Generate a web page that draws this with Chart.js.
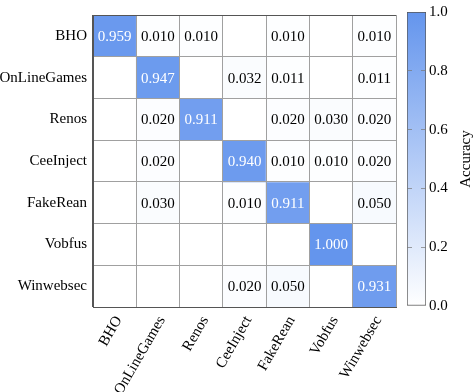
<!DOCTYPE html>
<html>
<head>
<meta charset="utf-8">
<script src="https://cdn.jsdelivr.net/npm/chart.js@4.4.1/dist/chart.umd.min.js"></script>
<style>
    html, body { margin: 0; padding: 0; background: #fff; }
    #wrap { position: relative; width: 474px; height: 392px; }
    #heat { position: absolute; left: 0; top: 0; }
    #bar { position: absolute; left: 400px; top: 0; }
</style>
</head>
<body>
<div id="wrap">
    <canvas id="heat" width="474" height="392"></canvas>
    <canvas id="bar" width="74" height="392"></canvas>
</div>
<script>
// Clases (filas = real, columnas = predicha)
const classes = ['BHO', 'OnLineGames', 'Renos', 'CeeInject', 'FakeRean', 'Vobfus', 'Winwebsec'];

// Una fila por clase real; null = celda vacía
const accBHO       = [0.959, 0.010, 0.010, null,  0.010, null,  0.010];
const accOnLine    = [null,  0.947, null,  0.032, 0.011, null,  0.011];
const accRenos     = [null,  0.020, 0.911, null,  0.020, 0.030, 0.020];
const accCeeInject = [null,  0.020, null,  0.940, 0.010, 0.010, 0.020];
const accFakeRean  = [null,  0.030, null,  0.010, 0.911, null,  0.050];
const accVobfus    = [null,  null,  null,  null,  null,  1.000, null];
const accWinwebsec = [null,  null,  null,  0.020, 0.050, null,  0.931];

const matrix = [accBHO, accOnLine, accRenos, accCeeInject, accFakeRean, accVobfus, accWinwebsec];

// Ticks de la barra de color
const barTicks = [0, 0.2, 0.4, 0.6, 0.8, 1.0];

const BLUE = [100, 149, 237];
const FONT = "Liberation Serif, Times New Roman, serif";

Chart.defaults.font.family = FONT;
Chart.defaults.font.size = 15;
Chart.defaults.color = '#000';

function colorFor(v) {
    const t = v || 0;
    const r = Math.round(255 + (BLUE[0] - 255) * t);
    const g = Math.round(255 + (BLUE[1] - 255) * t);
    const b = Math.round(255 + (BLUE[2] - 255) * t);
    return `rgb(${r}, ${g}, ${b})`;
}

// Texto de cada celda
const cellLabels = {
    id: 'cellLabels',
    afterDatasetsDraw(chart) {
        const ctx = chart.ctx;
        ctx.save();
        ctx.font = '15px ' + FONT;
        ctx.textAlign = 'center';
        ctx.textBaseline = 'middle';
        chart.data.datasets.forEach((ds, i) => {
            const meta = chart.getDatasetMeta(i);
            meta.data.forEach((el, j) => {
                const v = matrix[i][j];
                if (v === null) return;
                ctx.fillStyle = v > 0.5 ? '#fff' : '#000';
                ctx.fillText(v.toFixed(3), el.x, (el.y + el.base) / 2 + 1);
            });
        });
        ctx.restore();
    }
};

const edgeColor = (n) => (ctx) => (ctx.index === 0 || ctx.index === n) ? '#555' : '#a0a0a0';

new Chart(document.getElementById('heat'), {
    type: 'bar',
    data: {
        labels: classes,
        datasets: matrix.map((row, i) => ({
            label: classes[i],
            data: row.map(() => [i, i + 1]),
            backgroundColor: row.map(v => colorFor(v)),
            borderWidth: 0,
            barPercentage: 1,
            categoryPercentage: 1,
            grouped: false
        }))
    },
    options: {
        responsive: false,
        animation: false,
        layout: { padding: { top: 5, right: 78, left: 0, bottom: 0 } },
        plugins: { legend: { display: false }, tooltip: { enabled: false } },
        scales: {
            x: {
                grid: { z: 1, offset: true, drawTicks: false, color: edgeColor(7) },
                border: { z: 2, color: '#555' },
                ticks: { minRotation: 60, maxRotation: 60, padding: 6, labelOffset: 4 },
                afterFit: (s) => { s.height = 85; }
            },
            y: {
                min: 0,
                max: 7,
                reverse: true,
                grid: { z: 1, offset: true, drawTicks: false, color: edgeColor(7) },
                border: { z: 2, color: '#555' },
                afterBuildTicks: (s) => { s.ticks = classes.map((c, i) => ({ value: i + 0.5 })); },
                ticks: { padding: 6, callback: (v, idx) => classes[idx] },
                afterFit: (s) => { s.width = 93; }
            }
        }
    },
    plugins: [cellLabels]
});

// Título vertical de la barra de color
const barTitle = {
    id: 'barTitle',
    afterDraw(chart) {
        const ctx = chart.ctx;
        const a = chart.chartArea;
        ctx.save();
        ctx.translate(66, (a.top + a.bottom) / 2);
        ctx.rotate(-Math.PI / 2);
        ctx.font = '15px ' + FONT;
        ctx.fillStyle = '#000';
        ctx.textAlign = 'center';
        ctx.textBaseline = 'middle';
        ctx.fillText('Accuracy', 0, 0);
        ctx.restore();
    }
};

new Chart(document.getElementById('bar'), {
    type: 'bar',
    data: {
        labels: [''],
        datasets: [{
            data: [[0, 1]],
            backgroundColor: (c) => {
                const a = c.chart.chartArea;
                if (!a) return colorFor(0.5);
                const g = c.chart.ctx.createLinearGradient(0, a.bottom, 0, a.top);
                g.addColorStop(0, colorFor(0));
                g.addColorStop(1, colorFor(1));
                return g;
            },
            borderColor: '#555',
            borderWidth: 1,
            borderSkipped: false,
            barPercentage: 1,
            categoryPercentage: 1
        }]
    },
    options: {
        responsive: false,
        animation: false,
        layout: { padding: { top: 5, left: 7, bottom: 86, right: 0 } },
        plugins: { legend: { display: false }, tooltip: { enabled: false } },
        scales: {
            x: { display: false },
            y: {
                position: 'right',
                min: 0,
                max: 1,
                afterBuildTicks: (s) => { s.ticks = barTicks.map(v => ({ value: v })); },
                grid: {
                    z: 1,
                    drawTicks: false,
                    color: (c) => (c.index === 0 || c.index === barTicks.length - 1) ? 'rgba(0,0,0,0)' : 'rgba(120,120,120,0.7)'
                },
                border: { display: false, dash: [5, 9] },
                ticks: { padding: 3, callback: (v) => v.toFixed(1) },
                afterFit: (s) => { s.width = 48; }
            }
        }
    },
    plugins: [barTitle]
});
</script>
</body>
</html>
